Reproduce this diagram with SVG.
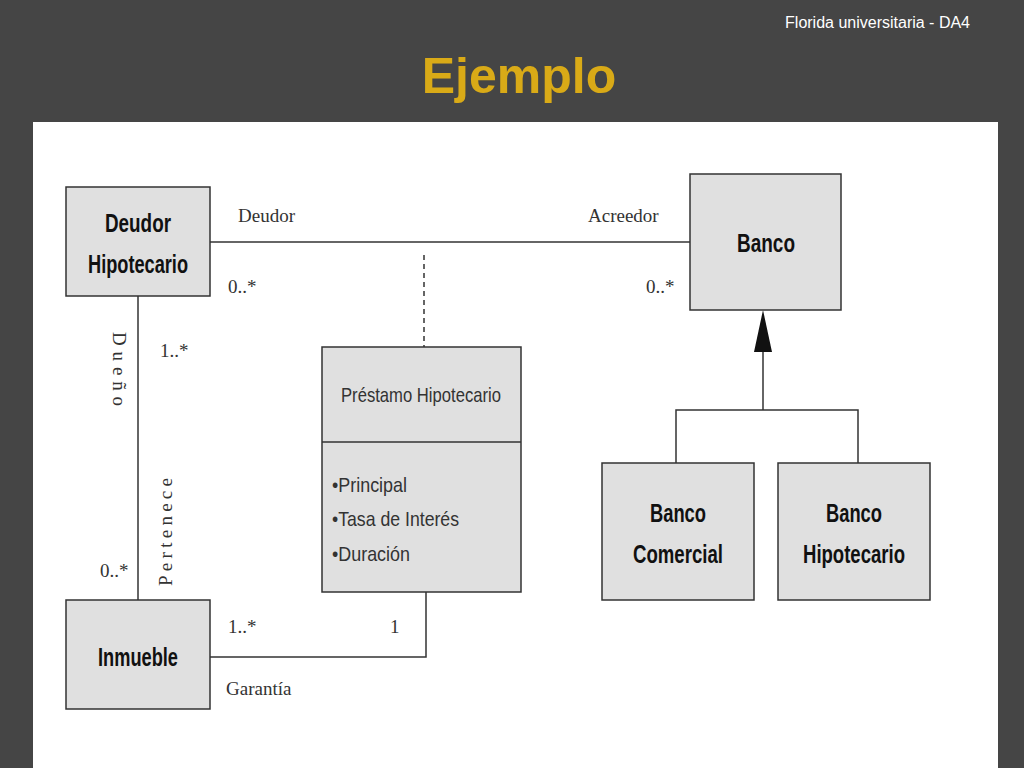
<svg xmlns="http://www.w3.org/2000/svg" width="1024" height="768" viewBox="0 0 1024 768">
<style>
.n{fill:#e0e0e0;stroke:#333;stroke-width:1.5}
.t{font-family:"Liberation Sans",Arial,sans-serif;font-size:25px;font-weight:bold;fill:#111;text-anchor:middle}
.a{font-family:"Liberation Sans",Arial,sans-serif;font-size:21px;fill:#333}
.l{font-family:"Liberation Serif",serif;font-size:19px;fill:#333}
.c{stroke:#333;stroke-width:1.5;fill:none}
</style>
<rect width="1024" height="768" fill="#454545"/>
<text x="970" y="28" font-family="Liberation Sans,Arial,sans-serif" font-size="16" fill="#fff" text-anchor="end">Florida universitaria - DA4</text>
<text x="519" y="93" font-family="Liberation Sans,Arial,sans-serif" font-size="50" font-weight="bold" fill="#d9aa17" text-anchor="middle">Ejemplo</text>
<rect x="33" y="122" width="965" height="646" fill="#fff"/>
<g id="connectors">
<line class="c" x1="210" y1="242" x2="690" y2="242"/>
<line class="c" x1="424" y1="255" x2="424" y2="347" stroke-dasharray="5,4"/>
<line class="c" x1="138" y1="296" x2="138" y2="600"/>
<polyline class="c" points="210,657 426,657 426,592"/>
<polygon points="763,310 754,352 772,352" fill="#111"/>
<line class="c" x1="763" y1="352" x2="763" y2="410"/>
<polyline class="c" points="676,463 676,410 858,410 858,463"/>
<text class="l" x="238" y="222">Deudor</text>
<text class="l" x="588" y="222">Acreedor</text>
<text class="l" x="228" y="293">0..*</text>
<text class="l" x="646" y="293">0..*</text>
<text class="l" x="160" y="357">1..*</text>
<text class="l" x="100" y="577">0..*</text>
<text class="l" x="228" y="633">1..*</text>
<text class="l" x="390" y="633">1</text>
<text class="l" x="226" y="695">Garantía</text>
<text class="l" transform="translate(113,332) rotate(90)" textLength="74">Dueño</text>
<text class="l" transform="translate(172,586) rotate(-90)" textLength="108">Pertenece</text>
</g>
<g id="deudor"><rect class="n" x="66" y="187" width="144" height="109"/><text class="t" x="138" y="232" textLength="66" lengthAdjust="spacingAndGlyphs">Deudor</text><text class="t" x="138" y="273" textLength="100" lengthAdjust="spacingAndGlyphs">Hipotecario</text></g>
<g id="banco"><rect class="n" x="690" y="174" width="151" height="136"/><text class="t" x="766" y="252" textLength="58" lengthAdjust="spacingAndGlyphs">Banco</text></g>
<g id="prestamo"><rect class="n" x="322" y="347" width="199" height="245"/><line class="c" x1="322" y1="442" x2="521" y2="442"/>
<text class="a" x="421" y="402" text-anchor="middle" textLength="160" lengthAdjust="spacingAndGlyphs">Préstamo Hipotecario</text>
<text class="a" x="332" y="492" textLength="75" lengthAdjust="spacingAndGlyphs">•Principal</text>
<text class="a" x="332" y="526" textLength="127" lengthAdjust="spacingAndGlyphs">•Tasa de Interés</text>
<text class="a" x="332" y="561" textLength="78" lengthAdjust="spacingAndGlyphs">•Duración</text></g>
<g id="comercial"><rect class="n" x="602" y="463" width="152" height="137"/><text class="t" x="678" y="522" textLength="56" lengthAdjust="spacingAndGlyphs">Banco</text><text class="t" x="678" y="563" textLength="90" lengthAdjust="spacingAndGlyphs">Comercial</text></g>
<g id="hipotecario"><rect class="n" x="778" y="463" width="152" height="137"/><text class="t" x="854" y="522" textLength="56" lengthAdjust="spacingAndGlyphs">Banco</text><text class="t" x="854" y="563" textLength="102" lengthAdjust="spacingAndGlyphs">Hipotecario</text></g>
<g id="inmueble"><rect class="n" x="66" y="600" width="144" height="109"/><text class="t" x="138" y="666" textLength="80" lengthAdjust="spacingAndGlyphs">Inmueble</text></g>
</svg>
